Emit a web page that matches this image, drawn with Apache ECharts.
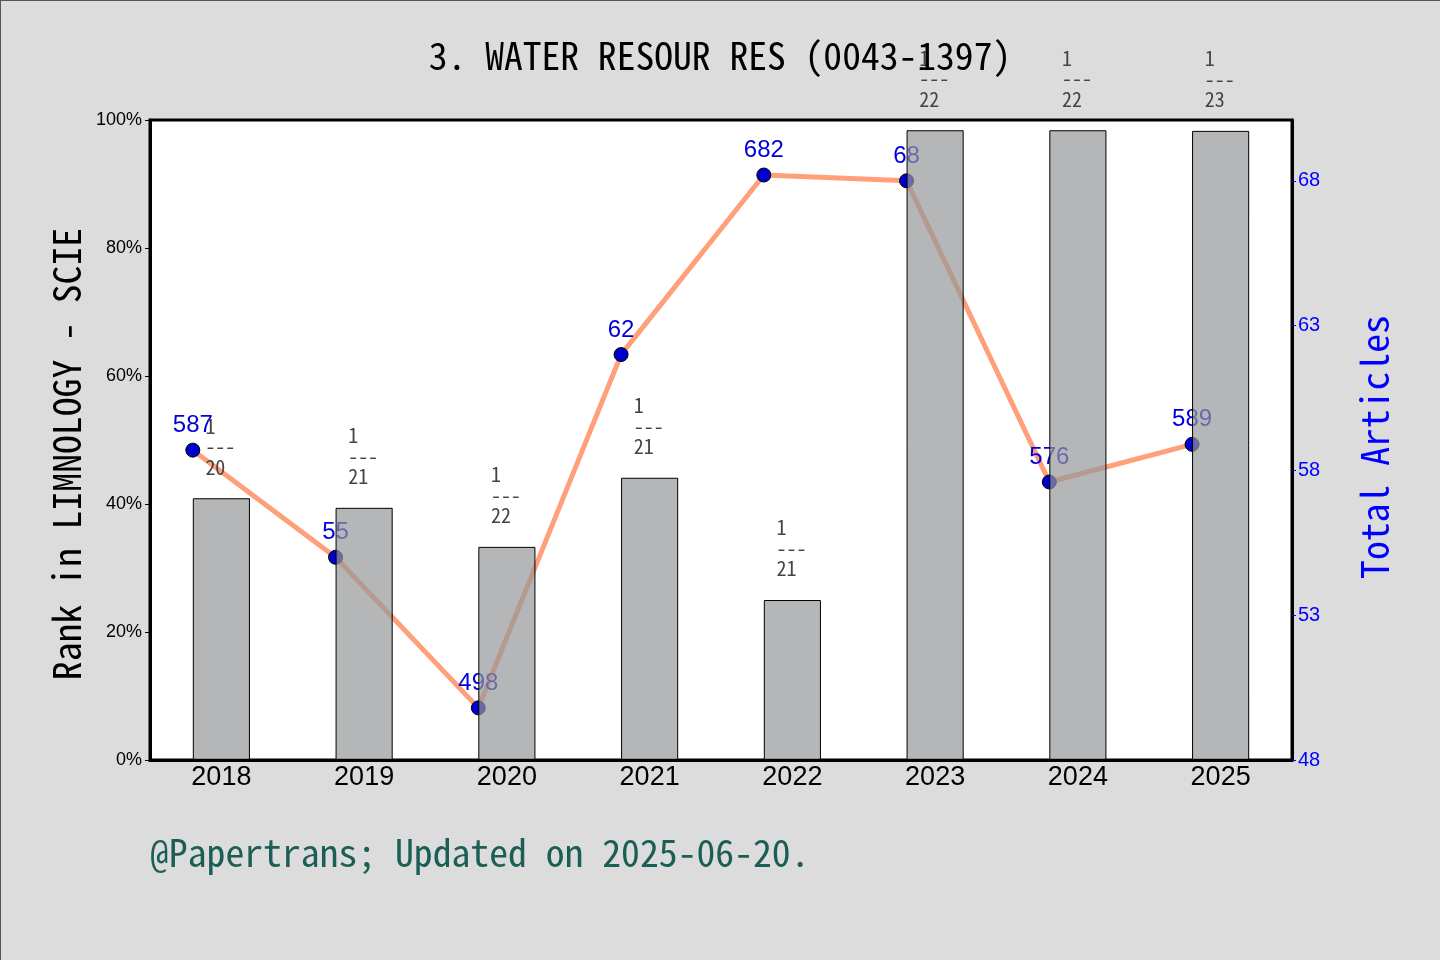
<!DOCTYPE html>
<html>
<head>
<meta charset="utf-8">
<script src="https://cdn.jsdelivr.net/npm/echarts@6/dist/echarts.min.js"></script>
<style>
html,body{margin:0;padding:0;background:#dcdcdc;}
#main{width:1440px;height:960px;}
</style>
</head>
<body>
<div id="main"></div>
<script>
var years = ['2018','2019','2020','2021','2022','2023','2024','2025'];
var rankPct = [40.9, 39.4, 33.3, 44.1, 25.0, 98.4, 98.4, 98.3];//bar height
var rankOf = [20, 21, 22, 21, 21, 22, 22, 23];//1 / n
var articles = [58.7, 55, 49.8, 62, 68.2, 68, 57.6, 58.9];//total articles
var leftTicks = [0, 20, 40, 60, 80, 100];
var rightTicks = [48, 53, 58, 63, 68];

var mono = "'Noto Sans Mono CJK SC', 'DejaVu Sans Mono', monospace";
var sans = "'Liberation Sans', Arial, sans-serif";
var barW = 0.4; // fraction of category

// line points sit on the left edge of each bar
var lineData = [];
for (var i = 0; i < articles.length; i++) {
    lineData.push([i - barW / 2, articles[i]]);
}

var myChart = echarts.init(document.getElementById('main'));
var option = {
    animation: false,
    backgroundColor: '#dcdcdc',
    title: {
        text: '3. WATER RESOUR RES (0043-1397)',
        left: 'center',
        top: 37,
        padding: 0,
        textStyle: {
            color: '#000',
            fontWeight: 'normal',
            fontFamily: mono,
            fontSize: 37.6
        }
    },
    graphic: [
        {
            type: 'text',
            left: 150,
            top: 834,
            style: {
                text: '@Papertrans; Updated on 2025-06-20.',
                fill: '#1b5e55',
                font: '37.7px ' + mono
            }
        },
        {type: 'line', shape: {x1: 0, y1: 0.5, x2: 1440, y2: 0.5}, style: {stroke: '#555', lineWidth: 1}},
        {type: 'line', shape: {x1: 0.5, y1: 0, x2: 0.5, y2: 960}, style: {stroke: '#555', lineWidth: 1}}
    ],
    grid: {
        left: 150,
        right: 148,
        top: 120,
        bottom: 200,
        show: true,
        backgroundColor: '#fff',
        borderColor: '#000',
        borderWidth: 3
    },
    xAxis: [
        {
            type: 'category',
            data: years,
            boundaryGap: true,
            axisLine: {onZero: false, lineStyle: {color: '#000', width: 3}},
            axisTick: {inside: true, length: 5, lineStyle: {color: '#000'}},
            axisLabel: {color: '#000', fontSize: 27, fontFamily: sans, margin: 4}
        },
        {
            type: 'value',
            min: -0.5,
            max: years.length - 0.5,
            show: false,
            axisLine: {onZero: false},
            splitLine: {show: false}
        }
    ],
    yAxis: [
        {
            type: 'value',
            min: 0,
            max: 100,
            interval: 20,
            name: 'Rank in LIMNOLOGY - SCIE',
            nameLocation: 'middle',
            nameGap: 64,
            nameRotate: 90,
            nameTextStyle: {color: '#000', fontSize: 37.7, fontFamily: mono, padding: [0, 28, 0, 0]},
            axisLine: {show: true, onZero: false, lineStyle: {color: '#000', width: 3}},
            axisTick: {show: true, length: 5, lineStyle: {color: '#000'}},
            splitLine: {show: false},
            axisLabel: {
                color: '#000', fontSize: 18, fontFamily: sans, margin: 8,
                customValues: leftTicks,
                formatter: '{value}%'
            }
        },
        {
            type: 'value',
            position: 'right',
            min: 48,
            max: 70.1,
            name: 'Total Articles',
            nameLocation: 'middle',
            nameGap: 64,
            nameRotate: 90,
            nameTextStyle: {color: '#0000ff', fontSize: 37.7, fontFamily: mono, padding: [0, 14, 0, 0]},
            axisLine: {show: true, onZero: false, lineStyle: {color: '#000', width: 3}},
            axisTick: {show: true, length: 4, customValues: rightTicks, lineStyle: {color: '#0000ff'}},
            splitLine: {show: false},
            axisLabel: {
                color: '#0000ff', fontSize: 20, fontFamily: sans, margin: 6,
                customValues: rightTicks
            }
        }
    ],
    series: [
        {
            name: 'Total Articles',
            type: 'line',
            xAxisIndex: 1,
            yAxisIndex: 1,
            z: 2,
            data: lineData,
            symbol: 'circle',
            symbolSize: 14,
            lineStyle: {color: '#ffa07a', width: 5},
            itemStyle: {color: '#0000cc', borderColor: '#000', borderWidth: 1},
            label: {
                show: true,
                position: 'top',
                distance: 5,
                color: '#0000dd',
                fontSize: 24,
                fontFamily: sans,
                formatter: function (p) { return String(p.value[1]).replace('.', ''); }
            }
        },
        {
            name: 'Rank',
            type: 'bar',
            z: 3,
            barWidth: (barW * 100) + '%',
            data: rankPct,
            itemStyle: {color: 'rgba(150,151,153,0.7)', borderColor: '#000', borderWidth: 1},
            label: {
                show: true,
                position: 'top',
                distance: 21,
                align: 'left',
                offset: [-16, 0],
                color: '#444',
                fontSize: 20,
                lineHeight: 20.5,
                fontFamily: mono,
                formatter: function (p) { return '1\n---\n' + rankOf[p.dataIndex]; }
            }
        }
    ]
};
myChart.setOption(option);
</script>
</body>
</html>
